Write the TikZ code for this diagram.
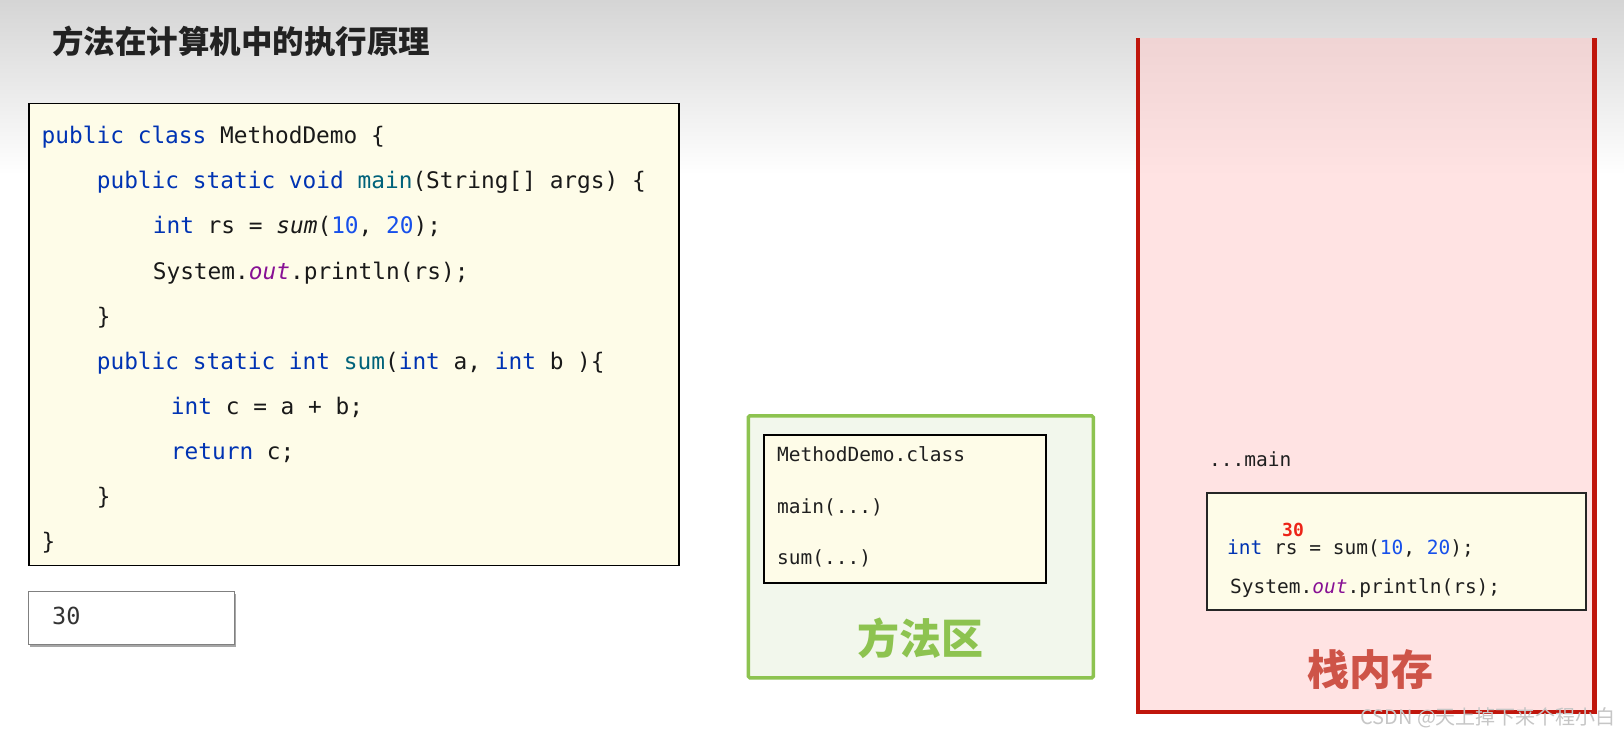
\documentclass[tikz,border=0pt]{standalone}
\usepackage{fontspec}
\setmonofont{DejaVu Sans Mono}
\newfontfamily\cjkfont{Noto Sans CJK SC}
\usetikzlibrary{shadows}
\definecolor{kwc}{RGB}{0,51,179}
\definecolor{fnc}{RGB}{0,98,122}
\definecolor{numc}{RGB}{23,80,235}
\definecolor{purc}{RGB}{135,16,148}
\definecolor{codebg}{RGB}{254,252,232}
\definecolor{bgtop}{RGB}{213,213,213}
\definecolor{grn}{RGB}{141,195,80}
\definecolor{grnfill}{RGB}{242,247,236}
\definecolor{redb}{RGB}{192,22,12}
\definecolor{pinkf}{RGB}{255,204,204}
\definecolor{stacktxt}{RGB}{206,84,72}
\definecolor{redthirty}{RGB}{236,36,24}
\definecolor{titlec}{RGB}{34,34,34}
\newcommand\kw[1]{\textcolor{kwc}{#1}}
\newcommand\fn[1]{\textcolor{fnc}{#1}}
\newcommand\nm[1]{\textcolor{numc}{#1}}
\newcommand\fld[1]{\textcolor{purc}{\itshape #1}}
\tikzset{
  codeline/.style={anchor=base west, inner sep=0pt, font=\ttfamily\fontsize{22.8}{26}\selectfont, text=black!90},
  smallcode/.style={anchor=base west, inner sep=0pt, font=\ttfamily\fontsize{19.5}{22}\selectfont, text=black!88},
  yellowbox/.style={draw=black, line width=1.5pt, fill=codebg, anchor=north west, inner sep=0pt},
  bigcjk/.style={font=\cjkfont\bfseries\fontsize{42}{42}\selectfont, inner sep=0pt}
}
\begin{document}
\begin{tikzpicture}[x=1pt,y=-1pt]
\useasboundingbox (0,0) rectangle (1624,736);
\fill[white] (0,0) rectangle (1624,736);
\shade[top color=bgtop, bottom color=white] (0,0) rectangle (1624,175);

% title
\node[anchor=west, inner sep=0pt, font=\cjkfont\bfseries\fontsize{31.5}{31.5}\selectfont, text=titlec] (title) at (52,41) {方法在计算机中的执行原理};

% code box
\node[yellowbox, minimum width=650pt, minimum height=462pt] (code) at (28,102.5) {};
\node[codeline] (l1) at (41.5,143) {\kw{public class} MethodDemo \{};
\node[codeline] (l2) at (96.6,188) {\kw{public static void} \fn{main}(String[] args) \{};
\node[codeline] (l3) at (152.6,233) {\kw{int} rs = \textit{sum}(\nm{10}, \nm{20});};
\node[codeline] (l4) at (152.6,279) {System.\fld{out}.println(rs);};
\node[codeline] (l5) at (96.6,324) {\}};
\node[codeline] (l6) at (96.6,369) {\kw{public static int} \fn{sum}(\kw{int} a, \kw{int} b )\{};
\node[codeline] (l7) at (170.7,414) {\kw{int} c = a + b;};
\node[codeline] (l8) at (170.7,459) {\kw{return} c;};
\node[codeline] (l9) at (96.6,504) {\}};
\node[codeline] (l10) at (41.5,549) {\}};

% result box
\node[draw=black!50, line width=1pt, fill=white, drop shadow={shadow xshift=1.5pt, shadow yshift=-2.5pt, opacity=0.35, fill=black}, minimum width=206pt, minimum height=53pt, anchor=north west, inner sep=0pt] (res) at (28,591) {};
\node[anchor=base west, inner sep=0pt, font=\ttfamily\fontsize{23.5}{23.5}\selectfont, text=black!80] (resv) at (52,624) {30};

% method area
\node[draw=grn, line width=3.5pt, fill=grnfill, rounded corners=1.5pt, minimum width=345pt, minimum height=262pt, anchor=north west, inner sep=0pt] (marea) at (746.5,414) {};
\node[yellowbox, minimum width=282pt, minimum height=148pt] (cls) at (763,434) {};
\node[smallcode] (c1) at (777,461) {MethodDemo.class};
\node[smallcode] (c2) at (777,513) {main(...)};
\node[smallcode] (c3) at (777,564) {sum(...)};
\node[bigcjk, text=grn] (malabel) at (920,638) {方法区};

% stack memory
\node[fill=pinkf, fill opacity=0.55, minimum width=456pt, minimum height=673.5pt, anchor=north west, inner sep=0pt] (stack) at (1138,38) {};
\draw[redb, line width=4.5pt] (stack.north west) -- (stack.south west) -- (stack.south east) -- (stack.north east);
\node[smallcode] (mainlbl) at (1209,466) {...main};
\node[yellowbox, draw=black!85, minimum width=379pt, minimum height=117pt] (frame) at (1206,492) {};
\node[inner sep=0pt, font=\ttfamily\bfseries\fontsize{18}{18}\selectfont, text=redthirty] (thirty) at (1293,530) {30};
\node[smallcode] (s1) at (1227,554) {\kw{int} rs = sum(\nm{10}, \nm{20});};
\node[smallcode] (s2) at (1230,593) {System.\fld{out}.println(rs);};
\node[bigcjk, text=stacktxt] (stlabel) at (1370,670) {栈内存};

% watermark
\node[anchor=west, inner sep=0pt, font=\cjkfont\fontsize{20}{20}\selectfont, text=gray!45] (wm) at (1360,718) {CSDN @天上掉下来个程小白};
\end{tikzpicture}
\end{document}
